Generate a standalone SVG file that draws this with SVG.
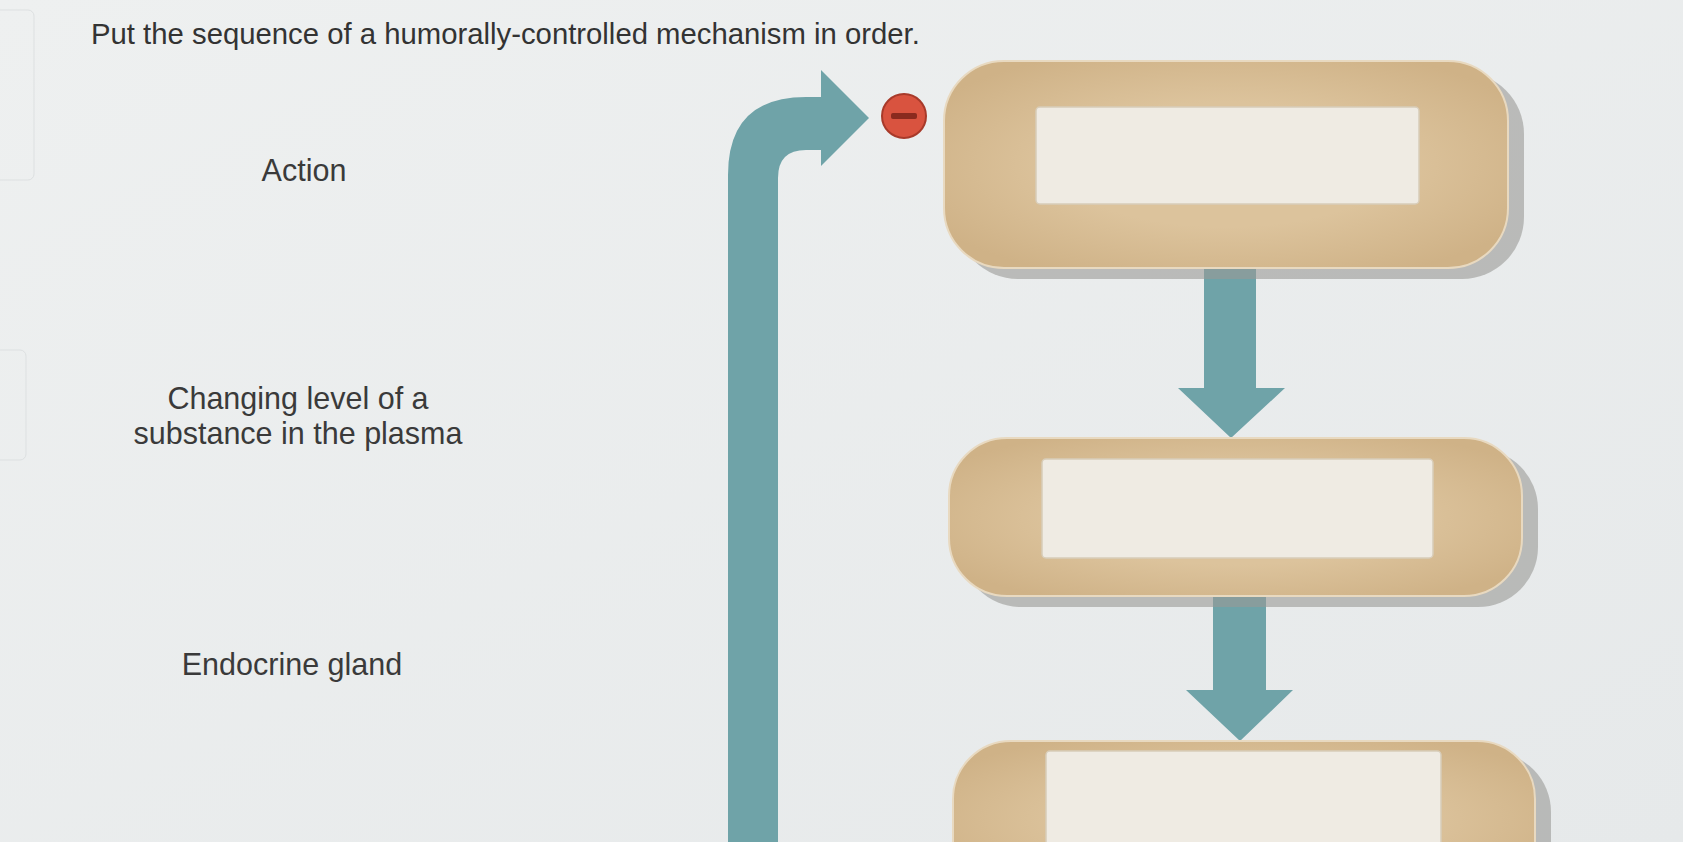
<svg xmlns="http://www.w3.org/2000/svg" width="1683" height="842" viewBox="0 0 1683 842">
<defs>
<linearGradient id="bg" x1="0" y1="0" x2="1" y2="1"><stop offset="0" stop-color="#eef0f0"/><stop offset="1" stop-color="#e6e9ea"/></linearGradient>
<radialGradient id="tan" cx="0.5" cy="0.5" r="0.6"><stop offset="0.5" stop-color="#dcc39c"/><stop offset="1" stop-color="#cfb287"/></radialGradient>
</defs>
<style>
.lbl{font-family:"Liberation Sans",Arial,sans-serif;font-size:30.5px;fill:#3a3a3a;text-anchor:middle}
.title{font-family:"Liberation Sans",Arial,sans-serif;font-size:29.3px;fill:#333}
.box{fill:url(#tan);stroke:#e8d9c0;stroke-width:2}
.shadow{fill:#9a9a96;opacity:0.6}
.inner{fill:#efebe3;stroke:#d8cdb9;stroke-width:1.5}
.teal{fill:#6fa3a8}
</style>
<rect width="1683" height="842" fill="url(#bg)"/>
<rect x="-10" y="10" width="44" height="170" rx="6" fill="none" stroke="#dde0e1"/>
<rect x="-10" y="350" width="36" height="110" rx="6" fill="none" stroke="#dde0e1"/>
<text class="title" x="91" y="44">Put the sequence of a humorally-controlled mechanism in order.</text>
<text class="lbl" x="304" y="181">Action</text>
<text class="lbl" x="298" y="409">Changing level of a</text>
<text class="lbl" x="298" y="444">substance in the plasma</text>
<text class="lbl" x="292" y="675">Endocrine gland</text>
<g id="connectors">
<path class="teal" d="M728 842 V175 Q728 97 806 97 H821 V70 L869 118 L821 166 V150 H806 Q778 150 778 178 V842 Z"/>
<path class="teal" d="M1204 268 H1256 V388 H1285 L1231 438 L1178 388 H1204 Z"/>
<path class="teal" d="M1213 596 H1266 V690 H1293 L1240 741 L1186 690 H1213 Z"/>
</g>
<g id="inhibit"><circle cx="904" cy="116" r="22" fill="#d9533f" stroke="#a83a2a" stroke-width="2"/><rect x="891" y="113" width="26" height="6" rx="2" fill="#8a2a1e"/></g>
<g id="box1"><rect class="shadow" x="956" y="72" width="568" height="207" rx="62"/><rect class="box" x="944" y="61" width="564" height="207" rx="60"/><rect class="inner" x="1036" y="107" width="383" height="97" rx="4"/></g>
<g id="box2"><rect class="shadow" x="961" y="449" width="577" height="158" rx="60"/><rect class="box" x="949" y="438" width="573" height="158" rx="58"/><rect class="inner" x="1042" y="459" width="391" height="99" rx="4"/></g>
<g id="box3"><rect class="shadow" x="965" y="752" width="586" height="158" rx="60"/><rect class="box" x="953" y="741" width="582" height="158" rx="58"/><rect class="inner" x="1046" y="751" width="395" height="120" rx="4"/></g>
</svg>
